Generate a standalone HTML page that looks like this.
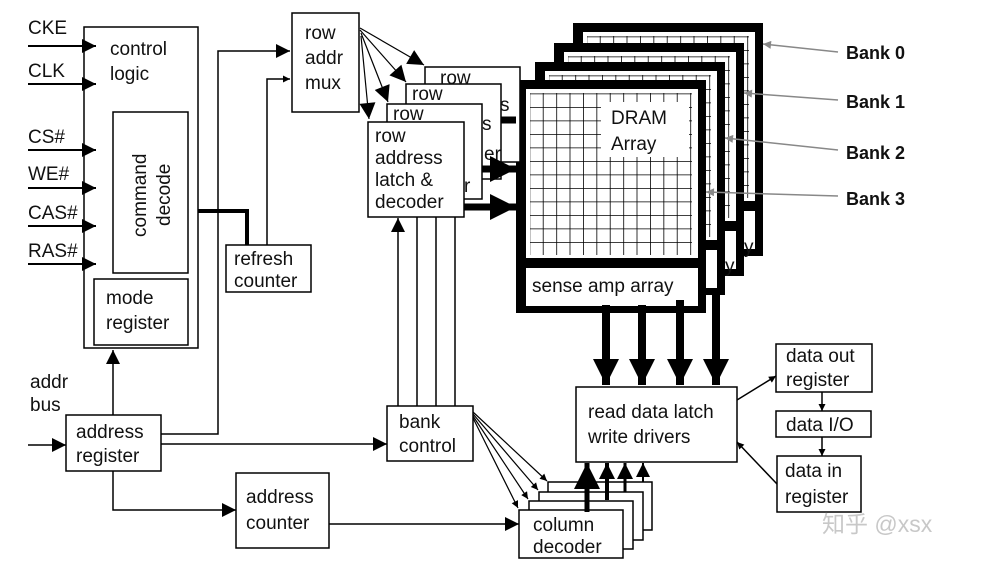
<!DOCTYPE html>
<html><head><meta charset="utf-8"><style>
html,body{margin:0;padding:0;background:#fff}
svg{display:block}
text{font-family:"Liberation Sans",Arial,sans-serif;font-size:19px;fill:#111}
</style></head><body>
<svg width="992" height="564" viewBox="0 0 992 564" xmlns="http://www.w3.org/2000/svg">
<defs>
<marker id="a" viewBox="0 0 10 10" refX="10" refY="5" markerWidth="10" markerHeight="7" markerUnits="userSpaceOnUse" orient="auto"><path d="M0,0L10,5L0,10z" fill="#000"/></marker>
<marker id="A" viewBox="0 0 10 10" refX="10" refY="5" markerWidth="30" markerHeight="14" markerUnits="userSpaceOnUse" orient="auto"><path d="M0,0L10,5L0,10z" fill="#000"/></marker>
<marker id="B" viewBox="0 0 10 10" refX="10" refY="5" markerWidth="32" markerHeight="26" markerUnits="userSpaceOnUse" orient="auto"><path d="M0,0L10,5L0,10z" fill="#000"/></marker>
<marker id="C" viewBox="0 0 10 10" refX="10" refY="5" markerWidth="28" markerHeight="16" markerUnits="userSpaceOnUse" orient="auto"><path d="M0,0L10,5L0,10z" fill="#000"/></marker>
<marker id="g" viewBox="0 0 10 10" refX="10" refY="5" markerWidth="14" markerHeight="8" markerUnits="userSpaceOnUse" orient="auto"><path d="M0,0L10,5L0,10z" fill="#888"/></marker>
<pattern id="grid" x="0" y="0" width="13.4" height="13.5" patternUnits="userSpaceOnUse"><rect width="13.4" height="13.5" fill="#fff"/><path d="M0,0H13.4M0,0V13.5" stroke="#000" stroke-width="1.6" fill="none"/></pattern>
<g id="bank">
<rect x="0" y="0" width="190" height="233" fill="#000"/>
<rect x="10" y="9" width="172" height="169" fill="#fff"/>
<rect x="14" y="13" width="162" height="162" fill="url(#grid)"/>
<rect x="10" y="188" width="172" height="38" fill="#fff"/>
</g>
</defs>

<!-- banks -->
<use href="#bank" x="573" y="23"/>
<use href="#bank" x="554" y="43"/>
<use href="#bank" x="535" y="62"/>
<use href="#bank" x="516" y="80"/>
<rect x="601" y="102" width="88" height="55" fill="#fff"/>
<text x="611" y="124">DRAM</text>
<text x="611" y="150">Array</text>
<text x="532" y="292">sense amp array</text>
<text x="744" y="253">y</text>
<text x="725" y="272">y</text>

<!-- bank labels -->
<text x="846" y="59" style="font-weight:bold;font-size:18px">Bank 0</text>
<text x="846" y="108" style="font-weight:bold;font-size:18px">Bank 1</text>
<text x="846" y="159" style="font-weight:bold;font-size:18px">Bank 2</text>
<text x="846" y="205" style="font-weight:bold;font-size:18px">Bank 3</text>
<g stroke="#888" stroke-width="1.5" marker-end="url(#g)">
<line x1="838" y1="52" x2="763" y2="44"/>
<line x1="838" y1="100" x2="744" y2="93"/>
<line x1="838" y1="150" x2="725" y2="138"/>
<line x1="838" y1="196" x2="706" y2="192"/>
</g>

<!-- row latches -->
<g stroke="#000" stroke-width="1.5" fill="#fff">
<rect x="425" y="67" width="95" height="95"/>
<rect x="406" y="84" width="95" height="95"/>
<rect x="387" y="104" width="95" height="95"/>
<rect x="368" y="122" width="96" height="95"/>
</g>
<text x="440" y="84">row</text>
<text x="412" y="100">row</text>
<text x="393" y="120">row</text>
<text x="500" y="111">s</text>
<text x="484" y="160">er</text>
<text x="464" y="192">r</text>
<text x="482" y="130">s</text>
<text x="375" y="142">row</text>
<text x="375" y="164">address</text>
<text x="375" y="186">latch &amp;</text>
<text x="375" y="208">decoder</text>
<g stroke="#000" stroke-width="7" marker-end="url(#B)">
<line x1="464" y1="207" x2="516" y2="207"/>
<line x1="482" y1="169" x2="516" y2="169"/>
</g>
<line x1="501" y1="120" x2="516" y2="120" stroke="#000" stroke-width="7"/>

<!-- row addr mux -->
<rect x="292" y="13" width="67" height="99" fill="#fff" stroke="#000" stroke-width="1.5"/>
<text x="305" y="39">row</text>
<text x="305" y="64">addr</text>
<text x="305" y="89">mux</text>
<g stroke="#000" stroke-width="1.2" marker-end="url(#C)">
<line x1="360" y1="28" x2="424" y2="65"/>
<line x1="360" y1="30" x2="406" y2="82"/>
<line x1="361" y1="33" x2="388" y2="102"/>
<line x1="361" y1="36" x2="369" y2="119"/>
</g>

<!-- control logic -->
<rect x="84" y="27" width="114" height="321" fill="#fff" stroke="#000" stroke-width="1.5"/>
<text x="110" y="55">control</text>
<text x="110" y="80">logic</text>
<rect x="113" y="112" width="75" height="161" fill="#fff" stroke="#000" stroke-width="1.5"/>
<text transform="translate(146,237) rotate(-90)">command</text>
<text transform="translate(170,226) rotate(-90)">decode</text>
<rect x="94" y="279" width="94" height="66" fill="#fff" stroke="#000" stroke-width="1.5"/>
<text x="106" y="304">mode</text>
<text x="106" y="329">register</text>
<text x="28" y="34">CKE</text>
<text x="28" y="77">CLK</text>
<text x="28" y="143">CS#</text>
<text x="28" y="180">WE#</text>
<text x="28" y="219">CAS#</text>
<text x="28" y="257">RAS#</text>
<g stroke="#000" stroke-width="2" marker-end="url(#A)">
<line x1="28" y1="46" x2="96" y2="46"/>
<line x1="28" y1="84" x2="96" y2="84"/>
<line x1="28" y1="150" x2="96" y2="150"/>
<line x1="28" y1="188" x2="96" y2="188"/>
<line x1="28" y1="226" x2="96" y2="226"/>
<line x1="28" y1="264" x2="96" y2="264"/>
</g>

<!-- refresh counter -->
<path d="M198,211H247V245" stroke="#000" stroke-width="4" fill="none"/>
<rect x="226" y="245" width="85" height="47" fill="#fff" stroke="#000" stroke-width="1.5"/>
<text x="234" y="265">refresh</text>
<text x="234" y="287">counter</text>
<path d="M267,245V79H290" stroke="#000" stroke-width="1.5" fill="none" marker-end="url(#a)"/>

<!-- address register -->
<text x="30" y="388">addr</text>
<text x="30" y="411">bus</text>
<line x1="28" y1="445" x2="66" y2="445" stroke="#000" stroke-width="1.5" marker-end="url(#A)"/>
<rect x="66" y="415" width="95" height="56" fill="#fff" stroke="#000" stroke-width="1.5"/>
<text x="76" y="438">address</text>
<text x="76" y="462">register</text>
<line x1="113" y1="415" x2="113" y2="350" stroke="#000" stroke-width="1.5" marker-end="url(#A)"/>
<path d="M161,434H218V51H290" stroke="#000" stroke-width="1.5" fill="none" marker-end="url(#A)"/>
<line x1="161" y1="444" x2="387" y2="444" stroke="#000" stroke-width="1.5" marker-end="url(#A)"/>
<path d="M113,471V510H236" stroke="#000" stroke-width="1.5" fill="none" marker-end="url(#A)"/>

<!-- address counter -->
<rect x="236" y="473" width="93" height="75" fill="#fff" stroke="#000" stroke-width="1.5"/>
<text x="246" y="503">address</text>
<text x="246" y="529">counter</text>
<line x1="329" y1="524" x2="519" y2="524" stroke="#000" stroke-width="1.5" marker-end="url(#A)"/>

<!-- bank control -->
<g stroke="#000" stroke-width="1.5">
<line x1="417" y1="217" x2="417" y2="406"/>
<line x1="436" y1="217" x2="436" y2="406"/>
<line x1="455" y1="217" x2="455" y2="406"/>
</g>
<line x1="398" y1="406" x2="398" y2="218" stroke="#000" stroke-width="1.5" marker-end="url(#A)"/>
<rect x="387" y="406" width="86" height="55" fill="#fff" stroke="#000" stroke-width="1.5"/>
<text x="399" y="428">bank</text>
<text x="399" y="452">control</text>

<!-- column decoders -->
<g stroke="#000" stroke-width="1.5" fill="#fff">
<rect x="548" y="482" width="104" height="48"/>
<rect x="539" y="492" width="104" height="48"/>
<rect x="529" y="501" width="104" height="48"/>
<rect x="519" y="510" width="104" height="48"/>
</g>
<text x="533" y="531">column</text>
<text x="533" y="553">decoder</text>
<g stroke="#000" stroke-width="1.2" marker-end="url(#a)">
<line x1="473" y1="412" x2="547" y2="481"/>
<line x1="473" y1="414" x2="538" y2="490"/>
<line x1="473" y1="416" x2="528" y2="499"/>
<line x1="473" y1="418" x2="518" y2="508"/>
</g>
<g stroke="#000">
<line x1="587" y1="512" x2="587" y2="463" stroke-width="5" marker-end="url(#B)"/>
<line x1="607" y1="500" x2="607" y2="463" stroke-width="4" marker-end="url(#C)"/>
<line x1="625" y1="492" x2="625" y2="463" stroke-width="3" marker-end="url(#C)"/>
<line x1="643" y1="482" x2="643" y2="463" stroke-width="2" marker-end="url(#A)"/>
</g>

<!-- sense amp arrows -->
<g stroke="#000" stroke-width="8" marker-end="url(#B)">
<line x1="606" y1="305" x2="606" y2="385"/>
<line x1="642" y1="305" x2="642" y2="385"/>
<line x1="680" y1="300" x2="680" y2="385"/>
<line x1="716" y1="290" x2="716" y2="385"/>
</g>

<!-- read data latch -->
<rect x="576" y="387" width="161" height="75" fill="#fff" stroke="#000" stroke-width="1.5"/>
<text x="588" y="418">read data latch</text>
<text x="588" y="443">write drivers</text>
<rect x="776" y="344" width="96" height="48" fill="#fff" stroke="#000" stroke-width="1.5"/>
<text x="786" y="362">data out</text>
<text x="786" y="386">register</text>
<rect x="776" y="411" width="95" height="26" fill="#fff" stroke="#000" stroke-width="1.5"/>
<text x="786" y="431">data I/O</text>
<rect x="777" y="456" width="84" height="56" fill="#fff" stroke="#000" stroke-width="1.5"/>
<text x="785" y="477">data in</text>
<text x="785" y="503">register</text>
<line x1="737" y1="400" x2="776" y2="376" stroke="#000" stroke-width="1.5" marker-end="url(#a)"/>
<line x1="777" y1="484" x2="737" y2="442" stroke="#000" stroke-width="1.5" marker-end="url(#a)"/>
<line x1="822" y1="392" x2="822" y2="411" stroke="#000" stroke-width="1.5" marker-end="url(#a)"/>
<line x1="822" y1="437" x2="822" y2="456" stroke="#000" stroke-width="1.5" marker-end="url(#a)"/>

<text x="822" y="532" style="font-family:'Liberation Sans','Noto Sans CJK SC',sans-serif;font-size:23px;fill:#c8c8c8">知乎 @xsx</text>
</svg>
</body></html>
